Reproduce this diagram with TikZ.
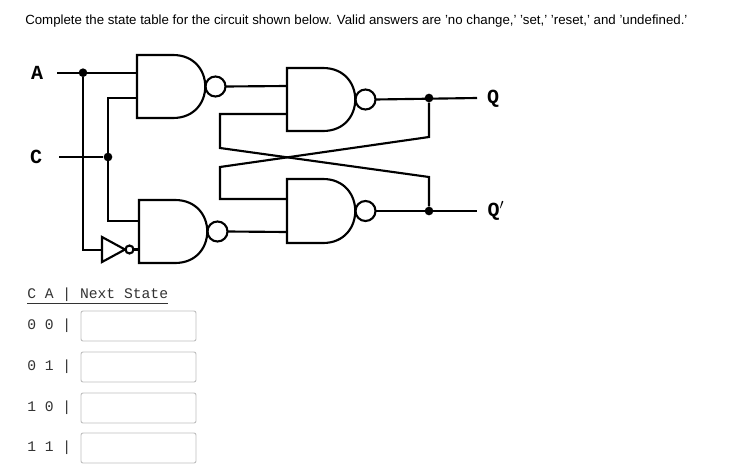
\documentclass[tikz,border=0pt]{standalone}
\usepackage{fontspec}
\setmainfont{Liberation Sans}
\newfontfamily\lblfont{Liberation Mono}
\newfontfamily\tabfont{Liberation Mono}
\tikzset{wire/.style={line width=1.6pt,line join=miter},
 dotw/.style={circle,fill,inner sep=0pt,minimum size=6.5pt},
 lbl/.style={font=\lblfont\bfseries\fontsize{15}{15}\selectfont},
 tab/.style={font=\tabfont\fontsize{11}{11}\selectfont,text=black!80,anchor=west,inner sep=0pt},
 abox/.style={draw=black!25,rounded corners=1.5pt,line width=0.7pt}}
\newcommand\nandgate[4]{% x top bottom name
 \draw[wire] (#1,#2) -- ({#1+36},#2) .. controls ({#1+79},#2) and ({#1+79},#3) .. ({#1+36},#3) -- (#1,#3) -- cycle;
 \draw[wire] ({#1+78.5},{(#2+#3)/2}) circle[radius=10];
 \coordinate (#4o) at ({#1+88.5},{(#2+#3)/2});}
\begin{document}
\begin{tikzpicture}[x=0.75pt,y=-0.75pt]
\useasboundingbox (0,0) rectangle (737,467);
\fill[white] (0,0) rectangle (737,467);
\node[anchor=west,inner sep=0pt,font=\fontsize{9.95}{11}\selectfont] (hdr) at (25,21) {Complete the state table for the circuit shown below. Valid answers are 'no change,' 'set,' 'reset,' and 'undefined.'};
% labels
\node[lbl] (A) at (37,73) {A};
\node[lbl] (C) at (36,157) {C};
\node[lbl] (Q) at (493,99) {Q};
\node[lbl] (Qp) at (496,211) {Q$'$};
% gates
\nandgate{137}{55}{118}{g1}
\nandgate{139}{200}{263}{g2}
\nandgate{287}{68}{131}{g3}
\nandgate{287}{179}{243}{g4}
% inverter
\draw[wire] (102,237) -- (125,249.5) -- (102,262) -- cycle;
\draw[wire] (129.5,249.5) circle[radius=4];
% junctions
\node[dotw] (dA) at (83,72.7) {};
\node[dotw] (dC) at (108,157) {};
\node[dotw] (dQ) at (429,98) {};
\node[dotw] (dQp) at (429,211) {};
% wires
\draw[wire] (57,72.7) -- (137,72.7);
\draw[wire] (59,157) -- (dC);
\draw[wire] (137,97.7) -- (108,97.7) -- (108,221) -- (139,221);
\draw[wire] (dA) -- (83,250) -- (102,250);
\draw[wire] (133.5,249.5) -- (139,249.5);
\draw[wire] (g1o) -- (287,86);
\draw[wire] (g2o) -- (287,232);
\draw[wire] (g3o) -- (477,98);
\draw[wire] (g4o) -- (477,211);
\draw[wire] (dQ) -- (429,137) -- (220,167) -- (220,199) -- (287,199);
\draw[wire] (dQp) -- (429,177) -- (220,148) -- (220,114) -- (287,114);
% table
\node[tab] (th) at (27,296) {\underline{C A |\ Next State}};
\foreach \r/\t/\y in {r1/{0 0 |}/326,r2/{0 1 |}/367,r3/{1 0 |}/408,r4/{1 1 |}/448}{
 \node[tab] (\r) at (27,\y) {\t};
 \draw[abox] (81,\y-15) rectangle (196,\y+15);}
\end{tikzpicture}
\end{document}
